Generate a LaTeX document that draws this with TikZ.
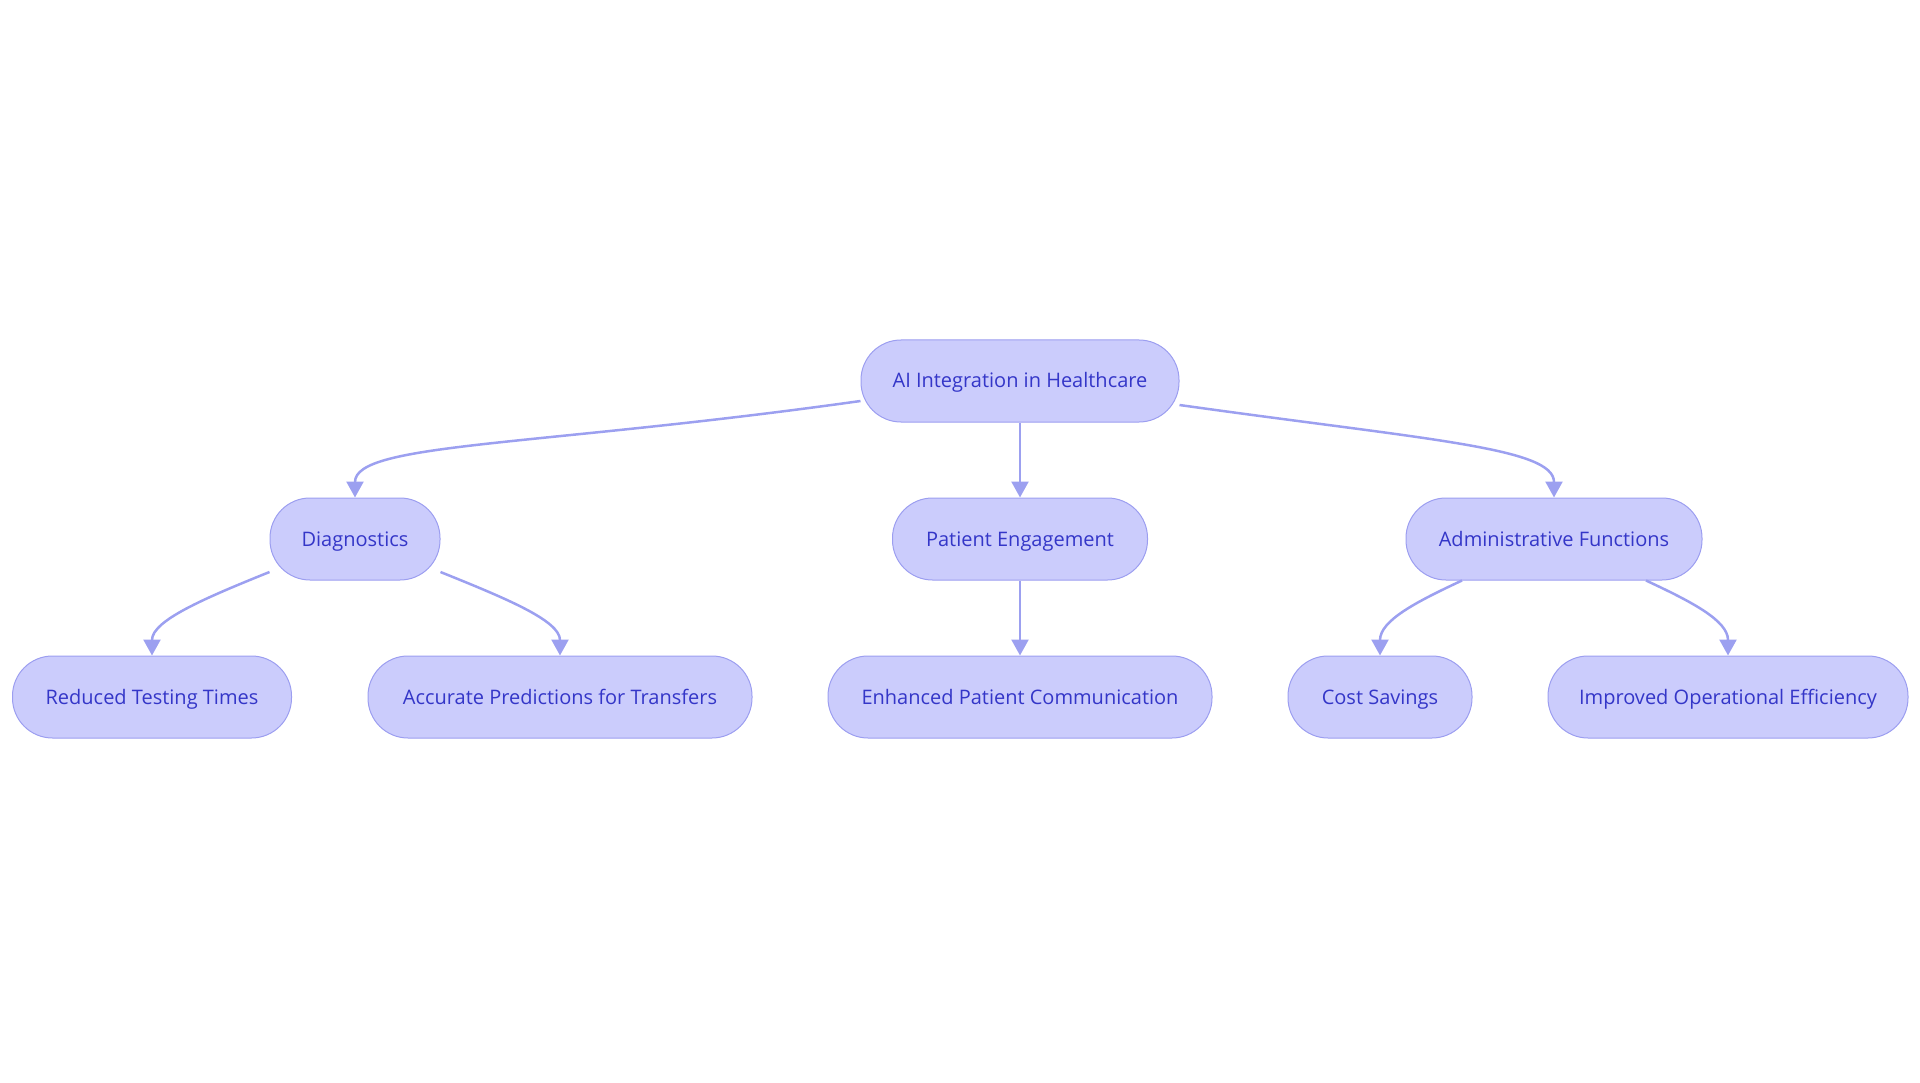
\documentclass[tikz,border=0pt]{standalone}
\usepackage{fontspec}
\setmainfont{Open Sans}
\usetikzlibrary{arrows.meta}
\definecolor{boxfill}{HTML}{CBCCFC}
\definecolor{boxline}{HTML}{9C9EF0}
\definecolor{boxtext}{HTML}{3436C8}
\definecolor{edgeline}{HTML}{9CA0F0}

\begin{document}
\begin{tikzpicture}[x=1pt, y=1pt,
    box/.style={rounded corners=40pt, draw=boxline, fill=boxfill, line width=1pt,
        text=boxtext, minimum height=82pt, inner sep=0pt, text height=16pt, text depth=2pt,
        font=\fontsize{20}{24}\selectfont},
    link/.style={draw=edgeline, line width=2.5pt, -{Triangle[length=16pt,width=17pt]}}]
    \useasboundingbox (0,0) rectangle (1920,-1083);

    \node (ai) at (1020, -381) [box, minimum width=318pt] {AI Integration in Healthcare};
    \node (diag) at (355, -539) [box, minimum width=170pt] {Diagnostics};
    \node (eng) at (1020, -539) [box, minimum width=255pt] {Patient Engagement};
    \node (admin) at (1554, -539) [box, minimum width=296pt] {Administrative Functions};
    \node (testing) at (152, -697) [box, minimum width=279pt] {Reduced Testing Times};
    \node (transfers) at (560, -697) [box, minimum width=384pt] {Accurate Predictions for Transfers};
    \node (comm) at (1020, -697) [box, minimum width=384pt] {Enhanced Patient Communication};
    \node (cost) at (1380, -697) [box, minimum width=184pt] {Cost Savings};
    \node (effic) at (1728, -697) [box, minimum width=360pt] {Improved Operational Efficiency};

    \draw[link] ([yshift=-20pt]ai.west) to[out=188, in=90, out distance=330pt, in distance=55pt] (diag);
    \draw[link] (ai) -- (eng);
    \draw[link] ([yshift=-24pt]ai.east) to[out=-8, in=90, out distance=250pt, in distance=50pt] (admin);
    \draw[link] ([yshift=-33pt]diag.west) to[out=202, in=90, out distance=70pt, in distance=35pt] (testing);
    \draw[link] ([yshift=-33pt]diag.east) to[out=-22, in=90, out distance=70pt, in distance=35pt] (transfers);
    \draw[link] (eng) -- (comm);
    \draw[link] ([xshift=-92pt]admin.south) to[out=205, in=90, out distance=50pt, in distance=35pt] (cost);
    \draw[link] ([xshift=92pt]admin.south) to[out=-25, in=90, out distance=50pt, in distance=35pt] (effic);
\end{tikzpicture}
\end{document}
